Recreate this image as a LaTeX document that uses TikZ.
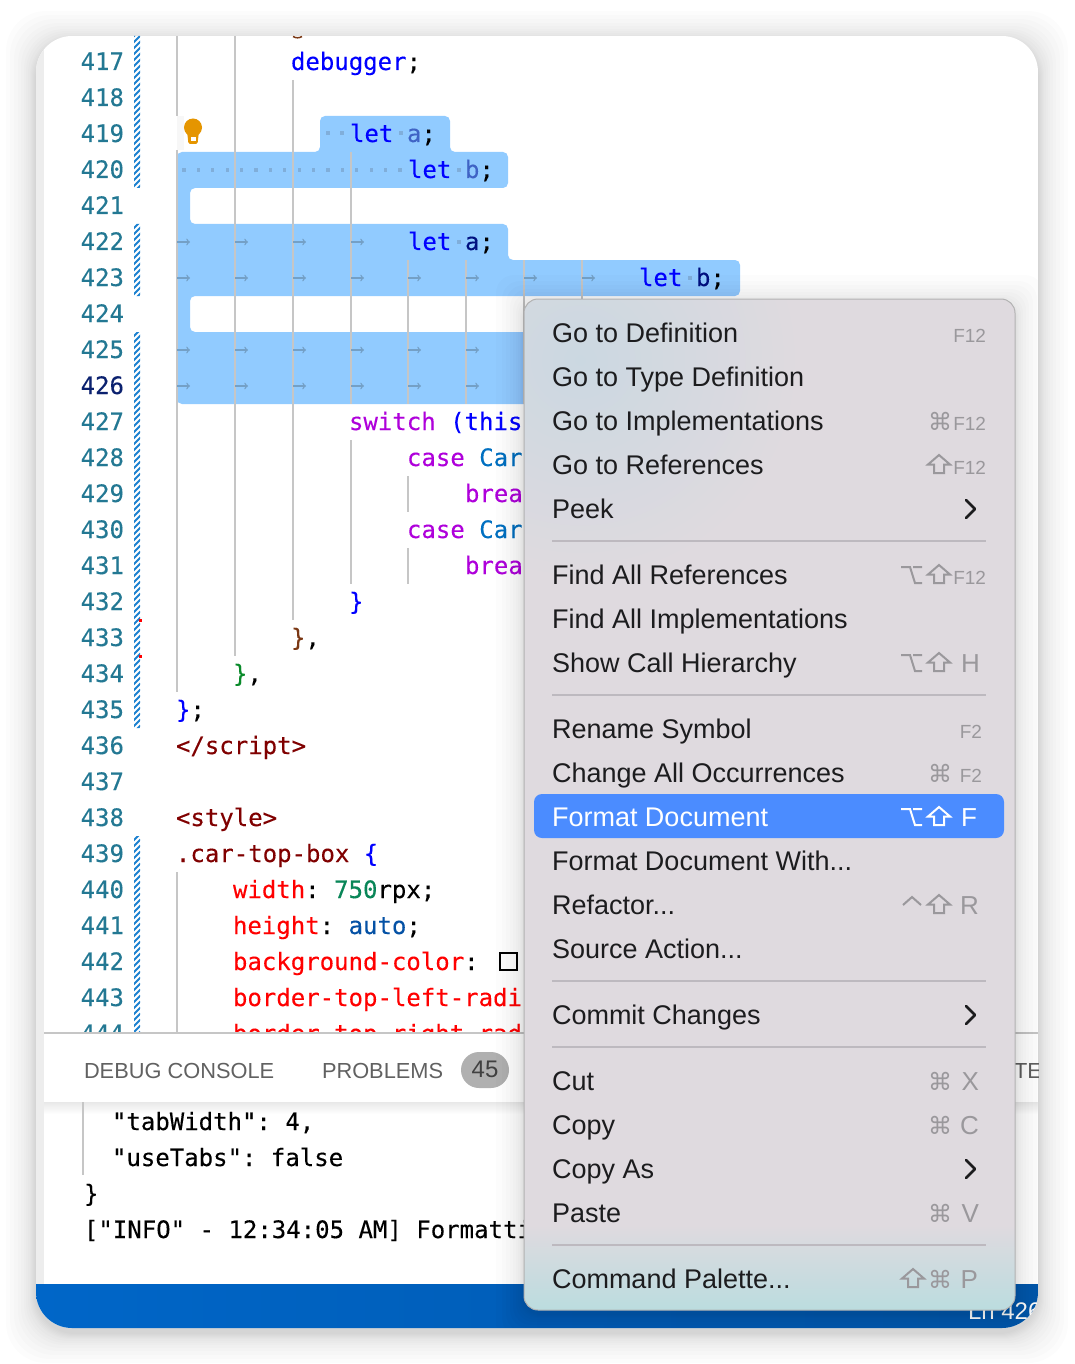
\documentclass[tikz,border=0pt]{standalone}
\usepackage{fontspec}
\setmainfont{Liberation Sans}
\setmonofont[FakeBold=0.2]{DejaVu Sans Mono}
\newfontfamily\symfont{DejaVu Sans}
\definecolor{selblue}{HTML}{91CBFF}
\definecolor{guidegray}{HTML}{C6C6C6}
\definecolor{wsblue}{HTML}{80AEDA}
\definecolor{tabarrow}{HTML}{74A0C6}
\definecolor{numteal}{HTML}{237893}
\definecolor{numnavy}{HTML}{0B216F}
\definecolor{kwblue}{HTML}{0000FF}
\definecolor{kwpink}{HTML}{AF00DB}
\definecolor{carblue}{HTML}{0070C1}
\definecolor{brace}{HTML}{7B3814}
\definecolor{bracegreen}{HTML}{098A2A}
\definecolor{tagred}{HTML}{800000}
\definecolor{cssred}{HTML}{FF0000}
\definecolor{numgreen}{HTML}{098658}
\definecolor{autoblue}{HTML}{0451A5}
\definecolor{dimblue}{HTML}{3F63C5}
\definecolor{varnavy}{HTML}{001080}
\definecolor{hatchblue}{HTML}{1B81D0}
\definecolor{menubase}{HTML}{DFDADF}
\definecolor{menutop}{HTML}{CBD8E1}
\definecolor{menuteal}{HTML}{BBDCDF}
\definecolor{menuink}{HTML}{1C1C1E}
\definecolor{keygray}{HTML}{9A989C}
\definecolor{menusel}{HTML}{4B8CFF}
\definecolor{sepgray}{HTML}{BDB9BF}
\definecolor{tabgray}{HTML}{616161}
\definecolor{barblue}{HTML}{0066C8}
\definecolor{bardark}{HTML}{0057AB}
\tikzset{
  textbase/.style={inner sep=0pt,outer sep=0pt},
  linenum/.style={textbase,anchor=base east,text=numteal,font=\ttfamily\fontsize{24}{28}\selectfont},
  codetext/.style={textbase,anchor=base west,font=\ttfamily\fontsize{24}{28}\selectfont},
  menuitem/.style={textbase,anchor=base west,text=menuink,font=\fontsize{27}{30}\selectfont},
  menukey/.style={textbase,anchor=base east,text=keygray,font=\fontsize{19}{24}\selectfont},
  menuletter/.style={textbase,anchor=base east,text=keygray,font=\fontsize{26}{30}\selectfont},
  menusym/.style={textbase,anchor=base,text=keygray,font=\symfont\fontsize{24}{26}\selectfont},
  tablabel/.style={textbase,anchor=base west,text=tabgray,font=\fontsize{21.8}{26}\selectfont},
  guide/.style={guidegray,line width=1.5pt},
  chevron/.style={menuink,line width=2.6pt,line cap=round,line join=round},
  menusep/.style={sepgray,line width=2pt},
  keymark/.style={keygray,line width=2pt,line join=miter},
  shiftmark/.pic={\draw[pic actions] (0,-19) -- (11,-9.5) -- (5,-9.5) -- (5,-1) -- (-5,-1) -- (-5,-9.5) -- (-11,-9.5) -- cycle;},
  optmark/.pic={\draw[pic actions] (-11,-17) -- (-2,-17) -- (3,-1) -- (10,-1) (1,-17) -- (10,-17);},
  ctrlmark/.pic={\draw[pic actions] (-9,-9) -- (0,-17) -- (9,-9);}
}
\begin{document}
\begin{tikzpicture}[x=1pt,y=-1pt]
  \useasboundingbox (0,0) rectangle (1074,1364);
  \fill[white] (0,0) rectangle (1074,1364);
  % window shadow
  \foreach \r in {1,2,3,4,5,6,8,10,12,15,18,22,26,30}
    \fill[black,opacity=.01,rounded corners=40pt] (36-\r,41-\r) rectangle (1038+\r,1333+\r);
  \begin{scope}
    \clip[rounded corners=36pt] (36,36) rectangle (1038,1328);
    \fill[white] (36,36) rectangle (1038,1328);
    \fill[black!7] (36,36) rectangle (44,1284);
    % selection
    \fill[selblue,rounded corners=5pt] (320,116) -- (450,116) -- (450,152) -- (508,152) -- (508,188)
      -- (190,188) -- (190,224) -- (508,224) -- (508,260) -- (740,260) -- (740,296)
      -- (190,296) -- (190,332) -- (580,332) -- (580,404) -- (177,404) -- (177,152) -- (320,152) -- cycle;
    % indent guides
    \begin{scope}[guide]
      \draw (177,36) to (177,116);
      \draw (177,150) to (177,692);
      \draw (235,36) to (235,656);
      \draw (293,80) to (293,620);
      \draw (351,152) to (351,404);
      \draw (351,440) to (351,584);
      \draw (408,260) to (408,404);
      \draw (408,476) to (408,512);
      \draw (408,548) to (408,584);
      \draw (466,260) to (466,404);
      \draw (524,260) to (524,404);
      \draw (582,260) to (582,300);
      \draw (177,872) to (177,1034);
    \end{scope}
    % whitespace marks
    \foreach \px/\py in {328/133,342/133,401/133,459/170,459/242,690/278}
      \fill[wsblue] (\px-1.6,\py-1.6) rectangle (\px+1.6,\py+1.6);
    \foreach \px in {184,198.4,...,400}
      \fill[wsblue] (\px-1.6,168.4) rectangle (\px+1.6,171.6);
    \foreach \px/\py in {177/242,235/242,293/242,351/242,
      177/278,235/278,293/278,351/278,408/278,466/278,524/278,582/278,
      177/350,235/350,293/350,351/350,408/350,466/350,
      177/386,235/386,293/386,351/386,408/386,466/386}
      \draw[tabarrow,line width=1.4pt,->,>=to] (\px,\py) -- (\px+13,\py);
    % change bars
    \begin{scope}
      \clip (134,36) rectangle (140,188) (134,224) rectangle (140,296) (134,332) rectangle (140,728) (134,836) rectangle (140,1034);
      \foreach \s in {36,42,...,1040}
        \draw[hatchblue,line width=2pt] (133,\s+1) -- (141,\s-7);
    \end{scope}
    \fill[red] (139,619) rectangle (142,622);
    \fill[red] (139,655) rectangle (142,658);
    % line numbers
    \draw
      (124,70) node[linenum] (n417){417}
      (124,106) node[linenum] (n418){418}
      (124,142) node[linenum] (n419){419}
      (124,178) node[linenum] (n420){420}
      (124,214) node[linenum] (n421){421}
      (124,250) node[linenum] (n422){422}
      (124,286) node[linenum] (n423){423}
      (124,322) node[linenum] (n424){424}
      (124,358) node[linenum] (n425){425}
      (124,394) node[linenum,text=numnavy] (n426){426}
      (124,430) node[linenum] (n427){427}
      (124,466) node[linenum] (n428){428}
      (124,502) node[linenum] (n429){429}
      (124,538) node[linenum] (n430){430}
      (124,574) node[linenum] (n431){431}
      (124,610) node[linenum] (n432){432}
      (124,646) node[linenum] (n433){433}
      (124,682) node[linenum] (n434){434}
      (124,718) node[linenum] (n435){435}
      (124,754) node[linenum] (n436){436}
      (124,790) node[linenum] (n437){437}
      (124,826) node[linenum] (n438){438}
      (124,862) node[linenum] (n439){439}
      (124,898) node[linenum] (n440){440}
      (124,934) node[linenum] (n441){441}
      (124,970) node[linenum] (n442){442}
      (124,1006) node[linenum] (n443){443}
      (124,1042) node[linenum] (n444){444};
    % code
    \draw[brace,line width=1.5pt] (293,36.5) to[bend right=30] (302,36.5);
    \draw
      (291,70) node[codetext] (c417){\textcolor{kwblue}{debugger};}
      (350,142) node[codetext] (c419let){\textcolor{kwblue}{let}}
      (407,142) node[codetext] (c419a){\textcolor{dimblue}{a};}
      (408,178) node[codetext] (c420let){\textcolor{kwblue}{let}}
      (465,178) node[codetext] (c420b){\textcolor{dimblue}{b};}
      (408,250) node[codetext] (c422let){\textcolor{kwblue}{let}}
      (465,250) node[codetext] (c422a){\textcolor{varnavy}{a};}
      (639,286) node[codetext] (c423let){\textcolor{kwblue}{let}}
      (696,286) node[codetext] (c423b){\textcolor{varnavy}{b};}
      (349,430) node[codetext] (c427){\textcolor{kwpink}{switch} \textcolor{kwblue}{(this}}
      (407,466) node[codetext] (c428){\textcolor{kwpink}{case} \textcolor{carblue}{Car}}
      (465,502) node[codetext] (c429){\textcolor{kwpink}{brea}}
      (407,538) node[codetext] (c430){\textcolor{kwpink}{case} \textcolor{carblue}{Car}}
      (465,574) node[codetext] (c431){\textcolor{kwpink}{brea}}
      (349,610) node[codetext] (c432){\textcolor{kwblue}{\}}}
      (291,646) node[codetext] (c433){\textcolor{brace}{\}},}
      (233,682) node[codetext] (c434){\textcolor{bracegreen}{\}},}
      (176,718) node[codetext] (c435){\textcolor{kwblue}{\}};}
      (176,754) node[codetext,text=tagred] (c436){</script>}
      (176,826) node[codetext,text=tagred] (c438){<style>}
      (176,862) node[codetext] (c439){\textcolor{tagred}{.car-top-box} \textcolor{kwblue}{\{}}
      (233,898) node[codetext] (c440){\textcolor{cssred}{width}: \textcolor{numgreen}{750}rpx;}
      (233,934) node[codetext] (c441){\textcolor{cssred}{height}: \textcolor{autoblue}{auto};}
      (233,970) node[codetext] (c442){\textcolor{cssred}{background-color}:}
      (233,1006) node[codetext,text=cssred] (c443){border-top-left-radi}
      (233,1042) node[codetext,text=cssred] (c444){border-top-right-rad};
    \draw[black,line width=2pt] (500,953) rectangle (517,970);
    % lightbulb
    \fill[white!97!black] (177,116) rectangle (184,150);
    \fill[orange!70!yellow!90!black] (193,127.5) circle (9pt);
    \fill[orange!70!yellow!90!black,rounded corners=1.5pt] (187,131) -- (199,131) -- (197.5,144) -- (188.5,144) -- cycle;
    \fill[white] (190.5,137) rectangle (195.5,141.5);
    % panel
    \fill[white] (44,1034) rectangle (1038,1284);
    \shade[top color=black!9,bottom color=white] (44,1102) rectangle (1038,1114);
    \draw[guidegray,line width=2pt] (44,1033) -- (1038,1033);
    \draw (84,1078) node[tablabel] (debugtab){DEBUG CONSOLE}
      (322,1078) node[tablabel] (problemstab){PROBLEMS}
      (1014,1078) node[tablabel] (termtab){TE};
    \fill[black!31,rounded corners=18pt] (461,1052) rectangle (509,1088);
    \draw (485,1077) node[tablabel,anchor=base,text=black!75,font=\fontsize{24}{26}\selectfont] (badge){45};
    \draw[guide] (83,1102) to (83,1175);
    \draw
      (112,1130) node[codetext] (t1){"tabWidth": 4,}
      (112,1166) node[codetext] (t2){"useTabs": false}
      (84,1202) node[codetext] (t3){\}}
      (84,1238) node[codetext] (t4){["INFO" - 12:34:05 AM] Formatti};
    % status bar
    \shade[left color=barblue,right color=bardark] (36,1284) rectangle (1038,1328);
    \draw (968,1319) node[tablabel,text=white,font=\fontsize{24}{26}\selectfont] (status){Ln 426};
    % menu shadow
    \foreach \r in {1,2,3,4,6,8,11,14,18,22,28}
      \fill[black,opacity=.01,rounded corners=18pt] (524-\r,303-\r) rectangle (1015+\r,1314+\r);
  \end{scope}
  % menu
  \begin{scope}
    \clip[rounded corners=14pt] (524,299) rectangle (1015,1310);
    \fill[menubase] (524,299) rectangle (1015,1310);
    \shade[inner color=menutop,outer color=menubase] (360,140) rectangle (800,580);
    \shade[top color=menubase,bottom color=menuteal] (524,1225) rectangle (1015,1310);
  \end{scope}
  \draw[black!30,line width=1pt,rounded corners=14pt] (524,299) rectangle (1015,1310);
  \fill[menusel,rounded corners=8pt] (534,794) rectangle (1004,838);
  \draw[menusep] (552,541) to (986,541);
  \draw[menusep] (552,695) to (986,695);
  \draw[menusep] (552,981) to (986,981);
  \draw[menusep] (552,1047) to (986,1047);
  \draw[menusep] (552,1245) to (986,1245);
  \draw
    (552,342) node[menuitem] (goDef){Go to Definition}
    (552,386) node[menuitem] (goType){Go to Type Definition}
    (552,430) node[menuitem] (goImpl){Go to Implementations}
    (552,474) node[menuitem] (goRefs){Go to References}
    (552,518) node[menuitem] (peek){Peek}
    (552,584) node[menuitem] (findRefs){Find All References}
    (552,628) node[menuitem] (findImpl){Find All Implementations}
    (552,672) node[menuitem] (callHier){Show Call Hierarchy}
    (552,738) node[menuitem] (rename){Rename Symbol}
    (552,782) node[menuitem] (changeAll){Change All Occurrences}
    (552,826) node[menuitem,text=white] (format){Format Document}
    (552,870) node[menuitem] (formatWith){Format Document With...}
    (552,914) node[menuitem] (refactor){Refactor...}
    (552,958) node[menuitem] (source){Source Action...}
    (552,1024) node[menuitem] (commit){Commit Changes}
    (552,1090) node[menuitem] (cut){Cut}
    (552,1134) node[menuitem] (copy){Copy}
    (552,1178) node[menuitem] (copyAs){Copy As}
    (552,1222) node[menuitem] (paste){Paste}
    (552,1288) node[menuitem] (palette){Command Palette...};
  \draw
    (986,342) node[menukey] (k1){F12}
    (986,430) node[menukey] (k3){F12}
    (940,430) node[menusym] (k3a){⌘}
    (986,474) node[menukey] (k4){F12}
    (986,584) node[menukey] (k6){F12}
    (980,672) node[menuletter] (k8){H}
    (982,738) node[menukey] (k9){F2}
    (982,782) node[menukey] (k10){F2}
    (940,782) node[menusym] (k10a){⌘}
    (977,826) node[menuletter,text=white] (k11){F}
    (979,914) node[menuletter] (k13){R}
    (979,1090) node[menuletter] (k16){X}
    (940,1090) node[menusym] (k16a){⌘}
    (979,1134) node[menuletter] (k17){C}
    (940,1134) node[menusym] (k17a){⌘}
    (979,1222) node[menuletter] (k19){V}
    (940,1222) node[menusym] (k19a){⌘}
    (978,1288) node[menuletter] (k20){P}
    (940,1288) node[menusym] (k20a){⌘};
  \begin{scope}[keymark]
    \pic at (939,474) {shiftmark};
    \pic at (939,584) {shiftmark};
    \pic at (912,584) {optmark};
    \pic at (939,672) {shiftmark};
    \pic at (912,672) {optmark};
    \pic[white] at (939,826) {shiftmark};
    \pic[white] at (912,826) {optmark};
    \pic at (939,914) {shiftmark};
    \pic at (912,914) {ctrlmark};
    \pic at (913,1288) {shiftmark};
  \end{scope}
  \draw[chevron] (966,500) -- (975,509) -- (966,518);
  \draw[chevron] (966,1006) -- (975,1015) -- (966,1024);
  \draw[chevron] (966,1160) -- (975,1169) -- (966,1178);
\end{tikzpicture}
\end{document}
